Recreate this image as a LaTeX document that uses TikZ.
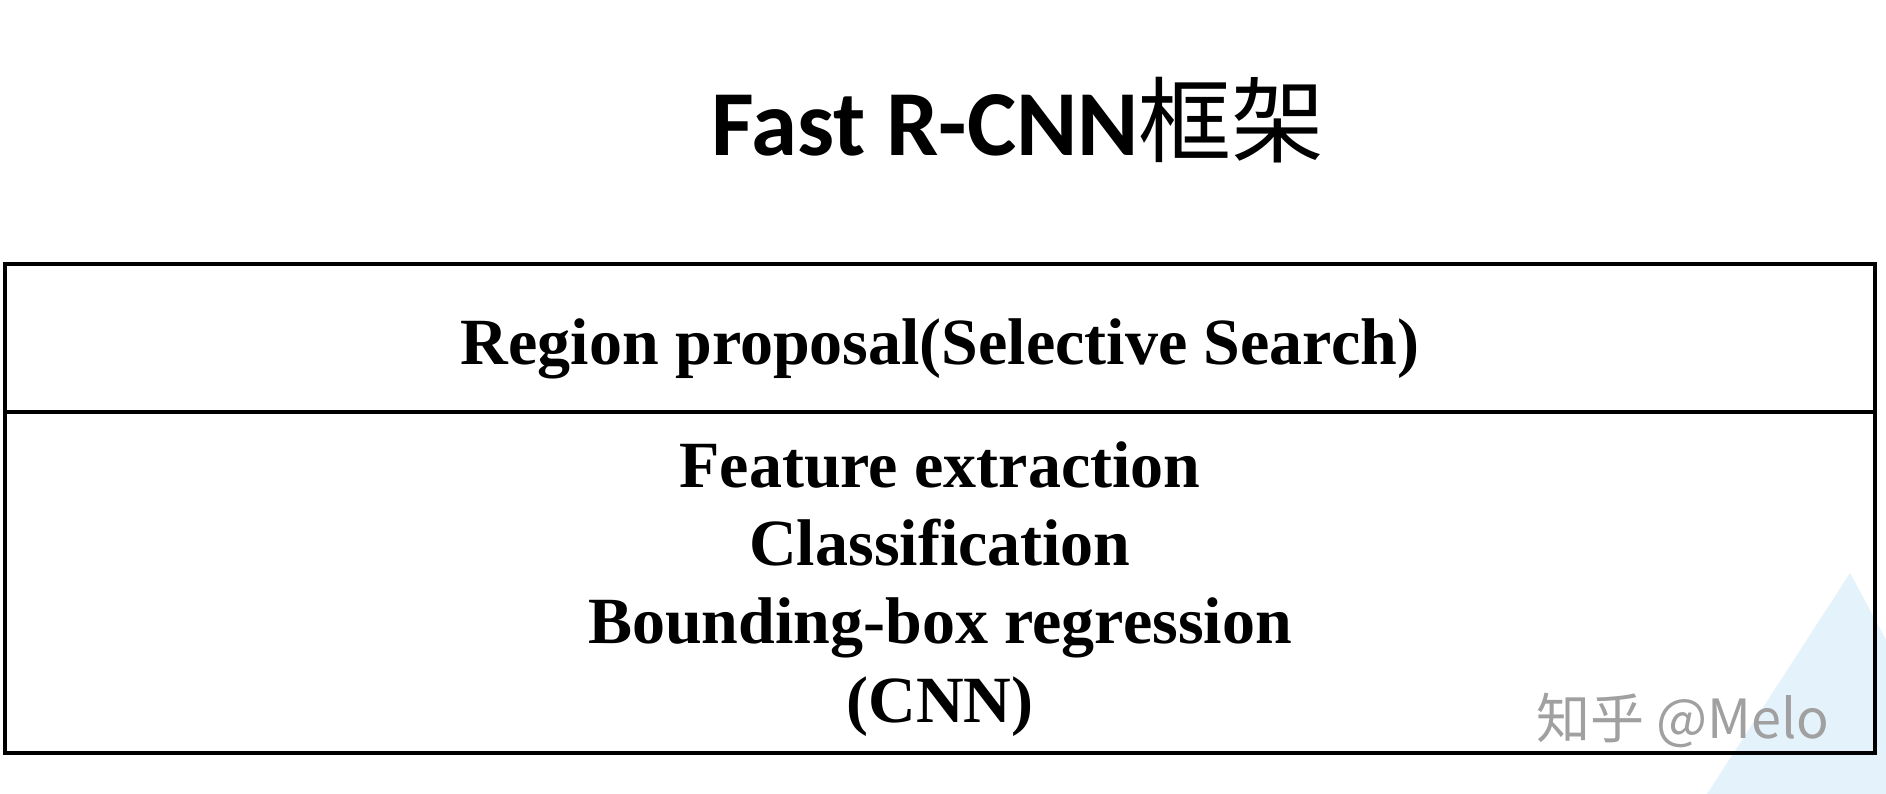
\documentclass[tikz,border=0pt]{standalone}
\usepackage{fontspec}
\setmainfont{Liberation Serif}
\newfontfamily\titlefont{Carlito}
\newfontfamily\cjk{Noto Sans CJK SC}
\definecolor{iceblue}{HTML}{E4F2FB}
\definecolor{markgray}{HTML}{A0A0A0}
\tikzset{
  rowtext/.style={inner sep=0pt, anchor=base, font=\bfseries\fontsize{66}{78}\selectfont},
  frame/.style={black, line width=3.5pt}
}
\begin{document}
\begin{tikzpicture}[x=1pt, y=-1pt]
    \useasboundingbox [fill=white] (0, 0) rectangle (1886, 794);
    % pale blue wedge behind the frame
    \fill [iceblue] (1850, 573) -- (1707, 794) -- (1886, 794) -- (1886, 640) -- cycle;

    \node [inner sep=0pt, anchor=base] at (1018, 156) (title)
        {\titlefont\bfseries\fontsize{93}{100}\selectfont Fast R-CNN{\cjk\mdseries 框架}};

    \coordinate (tl) at (5, 264);
    \coordinate (br) at (1875, 753);
    \coordinate (ml) at (5, 412);
    \coordinate (mr) at (1875, 412);
    \draw [frame] (tl) rectangle (br);
    \draw [frame] (ml) -- (mr);

    \node [rowtext] at (940, 364) (rp) {Region proposal(Selective Search)};

    \node [rowtext] at (940, 487) (fe) {Feature extraction};
    \node [rowtext] at (940, 565) (cl) {Classification};
    \node [rowtext] at (940, 643) (bb) {Bounding-box regression};
    \node [rowtext] at (940, 722) (cnn) {(CNN)};

    \node [inner sep=0pt, anchor=base, text=markgray] at (1683, 738) (mark)
        {\cjk\fontsize{54}{60}\selectfont 知乎 @Melo};
\end{tikzpicture}
\end{document}
